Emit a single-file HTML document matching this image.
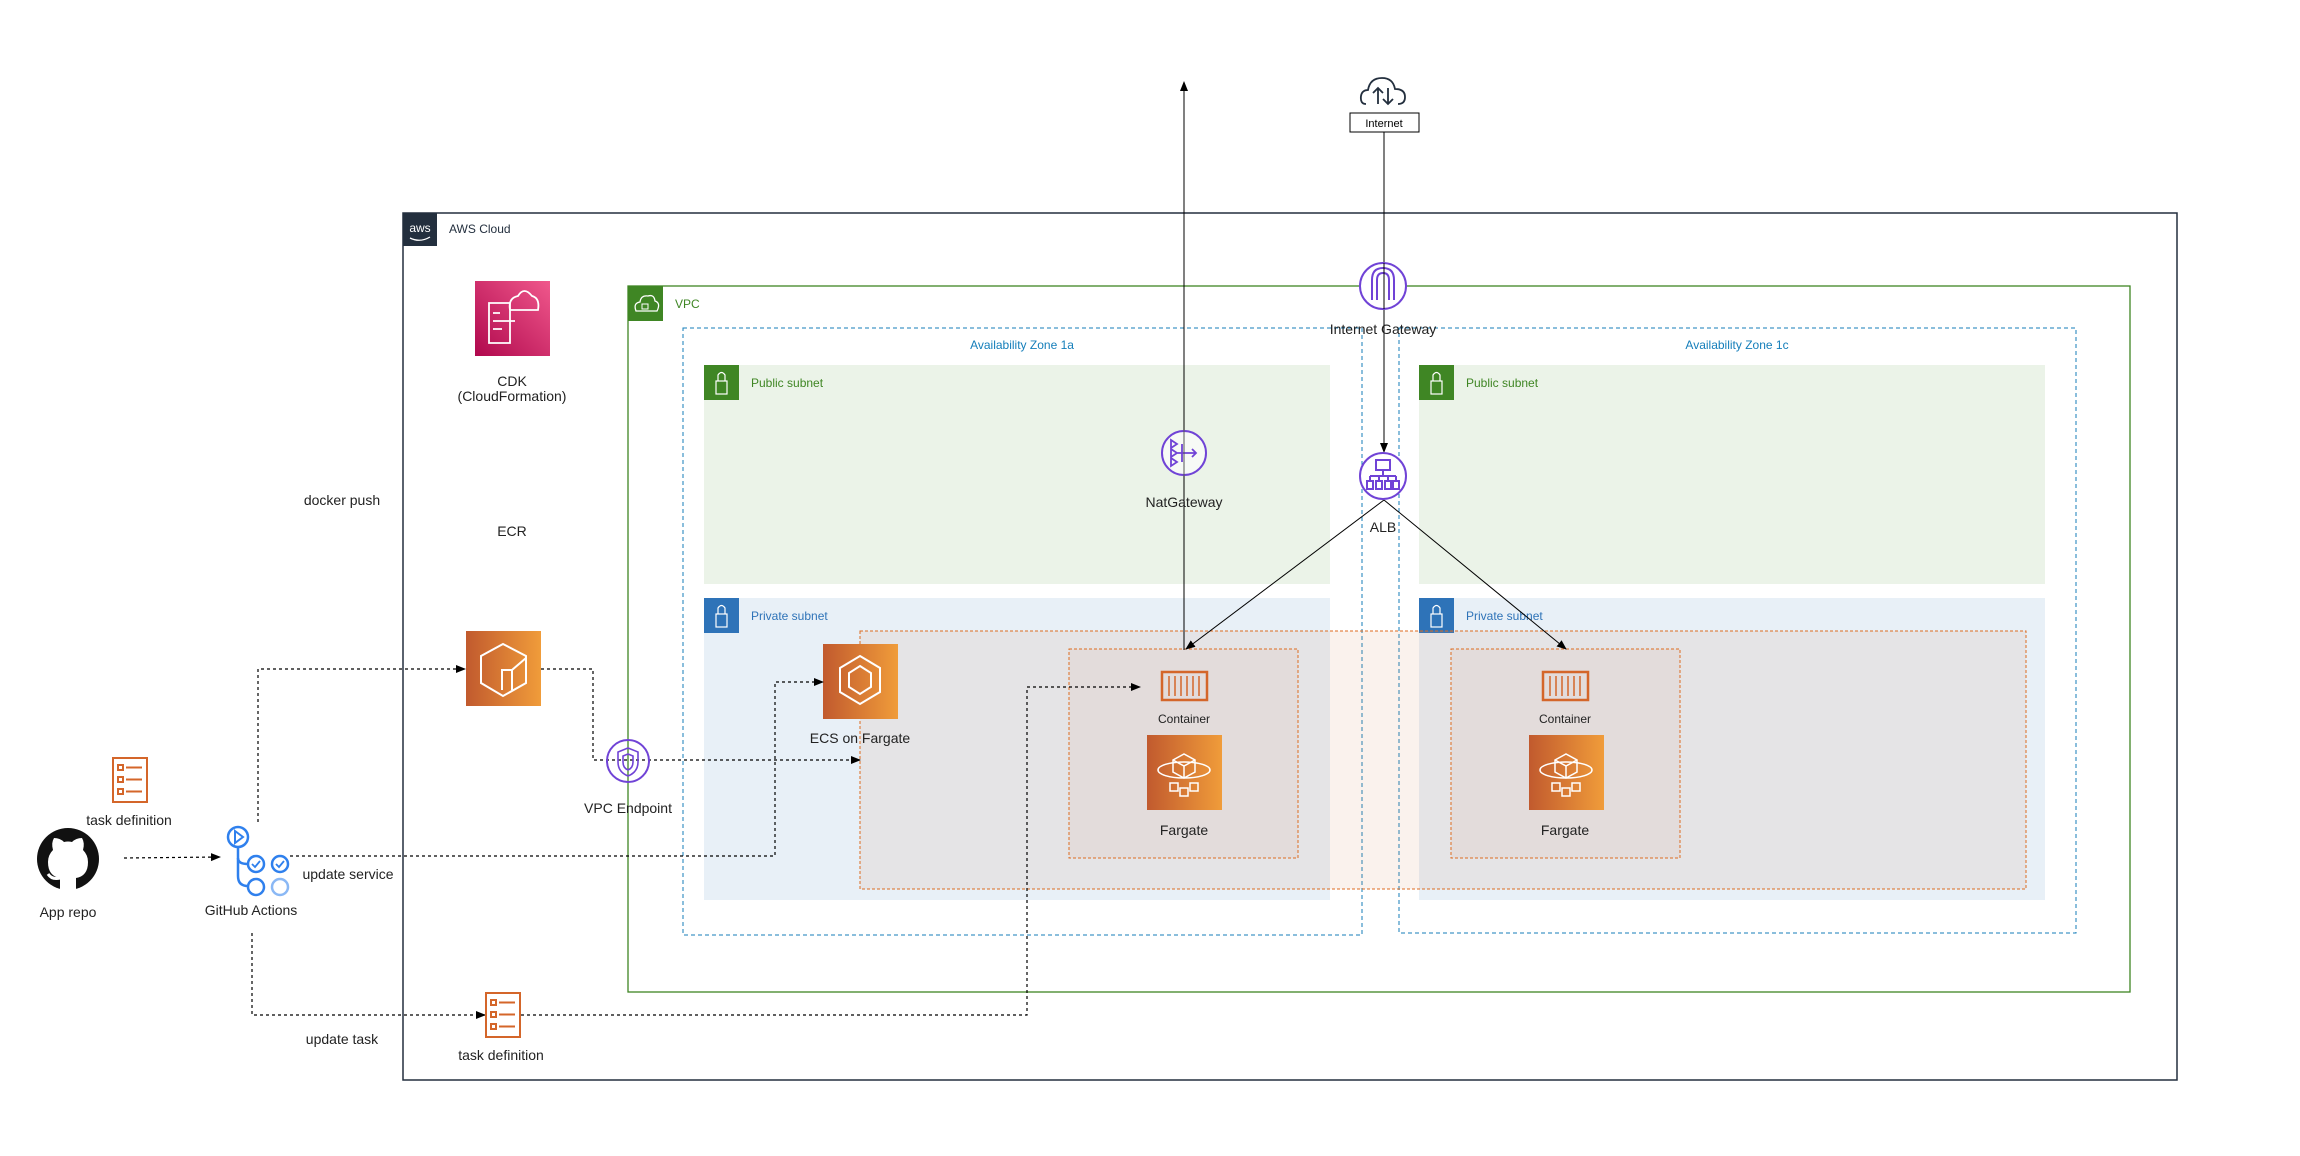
<!DOCTYPE html>
<html><head><meta charset="utf-8"><style>
html,body{margin:0;padding:0;background:#fff;}
svg{display:block;font-family:"Liberation Sans",Arial,sans-serif;}
</style></head><body>
<svg width="2300" height="1156" viewBox="0 0 2300 1156" xmlns="http://www.w3.org/2000/svg">
<defs>
<marker id="ar" markerWidth="10" markerHeight="10" refX="9" refY="5" orient="auto" markerUnits="userSpaceOnUse"><path d="M0,1 L10,5 L0,9 Z" fill="#000"/></marker>
<linearGradient id="og" x1="0" y1="0" x2="1" y2="0"><stop offset="0" stop-color="#c15a2e"/><stop offset="1" stop-color="#f09c3a"/></linearGradient>
<linearGradient id="pg" x1="0" y1="1" x2="1" y2="0"><stop offset="0" stop-color="#b0084d"/><stop offset="1" stop-color="#f0588c"/></linearGradient>
</defs>

<!-- AWS Cloud -->
<rect x="403" y="213" width="1774" height="867" fill="none" stroke="#232f3e" stroke-width="1.5"/>
<rect x="403" y="213" width="34" height="33" fill="#232f3e"/>
<text x="420" y="232" font-size="12" fill="#fff" text-anchor="middle">aws</text>
<path d="M410 238 Q420 243 430 237" stroke="#fff" fill="none" stroke-width="1.3"/>
<text x="449" y="233" font-size="12" fill="#232f3e">AWS Cloud</text>

<!-- VPC -->
<rect x="628" y="286" width="1502" height="706" fill="none" stroke="#3f8624" stroke-width="1.3"/>
<rect x="628" y="286" width="35" height="35" fill="#3f8624"/>
<path d="M636 311 Q633 303 640 302 Q641 295 648 296 Q654 294 655 301 Q661 303 657 311 Z" stroke="#fff" fill="none" stroke-width="1.3"/>
<rect x="642" y="304" width="6" height="5" fill="none" stroke="#fff"/>
<text x="675" y="308" font-size="12" fill="#3f8624">VPC</text>

<!-- AZs -->
<rect x="683" y="328" width="679" height="607" fill="none" stroke="#147eba" stroke-dasharray="4,3" stroke-width="1"/>
<rect x="1399" y="328" width="677" height="605" fill="none" stroke="#147eba" stroke-dasharray="4,3" stroke-width="1"/>
<text x="1022" y="349" font-size="12" fill="#147eba" text-anchor="middle">Availability Zone 1a</text>
<text x="1737" y="349" font-size="12" fill="#147eba" text-anchor="middle">Availability Zone 1c</text>

<!-- subnets -->
<g>
<rect x="704" y="365" width="626" height="219" fill="#ebf3e8"/>
<rect x="704" y="598" width="626" height="302" fill="#e8f0f7"/>
<rect x="1419" y="365" width="626" height="219" fill="#ebf3e8"/>
<rect x="1419" y="598" width="626" height="302" fill="#e8f0f7"/>
<rect x="704" y="365" width="35" height="35" fill="#3f8624"/>
<rect x="704" y="598" width="35" height="35" fill="#2e73b8"/>
<rect x="1419" y="365" width="35" height="35" fill="#3f8624"/>
<rect x="1419" y="598" width="35" height="35" fill="#2e73b8"/>
<g stroke="#fff" fill="none" stroke-width="1.2">
<rect x="716" y="381" width="11" height="13"/><path d="M718 381 V375 Q721.5 370 725 375 V381"/>
<rect x="716" y="614" width="11" height="13"/><path d="M718 614 V608 Q721.5 603 725 608 V614"/>
<rect x="1431" y="381" width="11" height="13"/><path d="M1433 381 V375 Q1436.5 370 1440 375 V381"/>
<rect x="1431" y="614" width="11" height="13"/><path d="M1433 614 V608 Q1436.5 603 1440 608 V614"/>
</g>
<text x="751" y="387" font-size="12" fill="#3f8624">Public subnet</text>
<text x="751" y="620" font-size="12" fill="#2e73b8">Private subnet</text>
<text x="1466" y="387" font-size="12" fill="#3f8624">Public subnet</text>
<text x="1466" y="620" font-size="12" fill="#2e73b8">Private subnet</text>
</g>

<!-- cluster -->
<rect x="860" y="631" width="1166" height="258" fill="rgba(215,150,110,0.12)" stroke="#dd6b20" stroke-dasharray="3,2" stroke-width="1"/>
<rect x="860" y="631" width="470" height="258" fill="rgba(0,0,0,0.0)"/>
<rect x="1069" y="649" width="229" height="209" fill="rgba(200,130,90,0.08)" stroke="#dd6b20" stroke-dasharray="3,2"/>
<rect x="1451" y="649" width="229" height="209" fill="rgba(200,130,90,0.08)" stroke="#dd6b20" stroke-dasharray="3,2"/>

<!-- containers -->
<g stroke="#d4662a" fill="none" stroke-width="2.5">
<rect x="1162" y="672" width="45" height="28"/>
<path d="M1169 676V696M1175 676V696M1181 676V696M1187 676V696M1193 676V696M1199 676V696" stroke-width="1.5"/>
<rect x="1543" y="672" width="45" height="28"/>
<path d="M1550 676V696M1556 676V696M1562 676V696M1568 676V696M1574 676V696M1580 676V696" stroke-width="1.5"/>
</g>
<text x="1184" y="723" font-size="12" fill="#222" text-anchor="middle">Container</text>
<text x="1565" y="723" font-size="12" fill="#222" text-anchor="middle">Container</text>
<!-- fargate -->
<g id="fg">
<rect x="1147" y="735" width="75" height="75" fill="url(#og)"/>
<g stroke="#fff" fill="none" stroke-width="1.5">
<path d="M1173 760 L1184 754 L1195 760 L1195 772 L1184 778 L1173 772 Z M1173 760 L1184 766 L1195 760 M1184 766 V778"/>
<ellipse cx="1184" cy="770" rx="26" ry="8"/>
<rect x="1170" y="783" width="8" height="8"/><rect x="1180" y="788" width="8" height="8"/><rect x="1190" y="783" width="8" height="8"/>
</g>
</g>
<use href="#fg" x="382" y="0"/>
<text x="1184" y="835" font-size="14" fill="#222" text-anchor="middle">Fargate</text>
<text x="1565" y="835" font-size="14" fill="#222" text-anchor="middle">Fargate</text>

<!-- ECS -->
<rect x="823" y="644" width="75" height="75" fill="url(#og)"/>
<g stroke="#fff" fill="none" stroke-width="2">
<path d="M860 656 L880 668 L880 692 L860 704 L840 692 L840 668 Z"/>
<path d="M860 666 L871 673 L871 687 L860 694 L849 687 L849 673 Z"/>
</g>
<text x="860" y="743" font-size="14" fill="#222" text-anchor="middle">ECS on Fargate</text>

<!-- ECR -->
<rect x="466" y="631" width="75" height="75" fill="url(#og)"/>
<g stroke="#fff" fill="none" stroke-width="2">
<path d="M503 644 L526 656 L526 683 L503 696 L481 683 L481 656 Z"/>
<path d="M526 658 L512 670 L512 690 M512 670 L502 670 L502 690"/>
</g>
<text x="512" y="536" font-size="14" fill="#222" text-anchor="middle">ECR</text>

<!-- CDK -->
<rect x="475" y="281" width="75" height="75" fill="url(#pg)"/>
<g stroke="#fff" fill="none" stroke-width="1.8">
<path d="M489 303 H510 V343 H489 Z"/>
<path d="M510 310 Q508 298 518 296 Q524 286 532 296 Q540 298 538 310 H510"/>
<path d="M493 313H500M493 321H515M493 329H502"/>
</g>
<text x="512" y="386" font-size="14" fill="#222" text-anchor="middle">CDK</text>
<text x="512" y="401" font-size="14" fill="#222" text-anchor="middle">(CloudFormation)</text>

<!-- Internet -->
<g stroke="#232f3e" fill="none" stroke-width="1.8">
<path d="M1366 104 Q1360 104 1361 96 Q1362 90 1368 90 Q1370 78 1382 78 Q1393 78 1395 89 Q1405 89 1405 97 Q1405 104 1398 104"/>
<path d="M1378 104 V88 M1373 93 L1378 88 L1383 93 M1388 88 V104 M1383 99 L1388 104 L1393 99"/>
</g>
<rect x="1350" y="113" width="69" height="19" fill="#fff" stroke="#000" stroke-width="1"/>
<text x="1384" y="127" font-size="11" text-anchor="middle">Internet</text>

<!-- connectors solid -->
<line x1="1384" y1="132" x2="1384" y2="452" stroke="#000" stroke-width="1" marker-end="url(#ar)"/>
<line x1="1184" y1="650" x2="1184" y2="82" stroke="#000" stroke-width="1" marker-end="url(#ar)"/>
<line x1="1384" y1="500" x2="1186" y2="649" stroke="#000" stroke-width="1" marker-end="url(#ar)"/>
<line x1="1384" y1="500" x2="1566" y2="649" stroke="#000" stroke-width="1" marker-end="url(#ar)"/>

<!-- IGW -->
<circle cx="1383" cy="286" r="23" fill="#fff" stroke="#7043d6" stroke-width="2"/>
<path d="M1372 300 V280 Q1372 268 1383 268 Q1394 268 1394 280 V300 M1377 300 V280 Q1377 273 1383 273 Q1389 273 1389 280 V300" stroke="#7043d6" fill="none" stroke-width="2"/>
<line x1="1384" y1="263" x2="1384" y2="309" stroke="#000" stroke-width="1"/>
<text x="1383" y="334" font-size="14" fill="#222" text-anchor="middle">Internet Gateway</text>
<!-- ALB -->
<circle cx="1383" cy="476" r="23" fill="#fff" stroke="#7043d6" stroke-width="2"/>
<g stroke="#7043d6" fill="none" stroke-width="2">
<rect x="1376" y="460" width="14" height="10"/><path d="M1383 470 V476 M1370 476 H1396 M1370 476 V481 M1379 476 V481 M1388 476 V481 M1396 476 V481"/>
<rect x="1367" y="481" width="6" height="8"/><rect x="1376" y="481" width="6" height="8"/><rect x="1385" y="481" width="6" height="8"/><rect x="1393" y="481" width="6" height="8"/>
</g>
<text x="1383" y="532" font-size="14" fill="#222" text-anchor="middle">ALB</text>
<!-- NAT -->
<circle cx="1184" cy="453" r="22" fill="#fff" fill-opacity="0.6" stroke="#7043d6" stroke-width="2"/>
<g stroke="#7043d6" fill="none" stroke-width="1.8">
<path d="M1171 440 L1177 444 L1171 448 Z M1171 449 L1177 453 L1171 457 Z M1171 458 L1177 462 L1171 466 Z M1177 453 H1196 M1192 449 L1196 453 L1192 457 M1182 444 V462"/>
</g>
<line x1="1184" y1="430" x2="1184" y2="476" stroke="#555" stroke-width="1"/>
<text x="1184" y="507" font-size="14" fill="#222" text-anchor="middle">NatGateway</text>

<!-- dashed connectors -->
<g stroke="#000" fill="none" stroke-width="1.2" stroke-dasharray="3,3">
<path d="M124 858 L220 857" marker-end="url(#ar)"/>
<path d="M258 822 V669 H465" marker-end="url(#ar)"/>
<path d="M541 669 H593 V760 H860" marker-end="url(#ar)"/>
<path d="M290 856 H775 V682 H823" marker-end="url(#ar)"/>
<path d="M252 933 V1015 H485" marker-end="url(#ar)"/>
<path d="M521 1015 H1027 V687 H1140" marker-end="url(#ar)"/>
</g>

<!-- VPC endpoint -->
<circle cx="628" cy="761" r="21" fill="none" stroke="#7043d6" stroke-width="2"/>
<path d="M628 748 L638 752 V762 Q638 772 628 776 Q618 772 618 762 V752 Z M628 754 L633 756 V762 Q633 768 628 770 Q623 768 623 762 V756 Z" stroke="#7043d6" fill="none" stroke-width="1.6"/>
<text x="628" y="813" font-size="14" fill="#222" text-anchor="middle">VPC Endpoint</text>

<!-- task defs -->
<g id="td" stroke="#d4662a" fill="none" stroke-width="2">
<rect x="113" y="758" width="34" height="44"/>
<rect x="118" y="765" width="5" height="5"/><rect x="118" y="777" width="5" height="5"/><rect x="118" y="789" width="5" height="5"/>
<path d="M126 767.5H142M126 779.5H142M126 791.5H142"/>
</g>
<use href="#td" x="373" y="235"/>
<text x="129" y="825" font-size="14" fill="#222" text-anchor="middle">task definition</text>
<text x="501" y="1060" font-size="14" fill="#222" text-anchor="middle">task definition</text>

<!-- Octocat -->
<g fill="#111">
<circle cx="68" cy="859" r="31"/>
</g>
<path d="M60 890 V878 Q48 876 48 862 Q48 855 53 850 Q51 843 54 838 Q60 838 64 842 Q68 841 72 842 Q76 838 82 838 Q85 843 83 850 Q88 855 88 862 Q88 876 76 878 V890 Z" fill="#fff"/>
<path d="M60 878 Q52 880 48 874" stroke="#fff" stroke-width="3" fill="none"/>
<text x="68" y="917" font-size="14" fill="#222" text-anchor="middle">App repo</text>

<!-- GitHub Actions -->
<g fill="none" stroke-width="2.5">
<circle cx="238" cy="837" r="10" stroke="#2f80ed"/>
<path d="M235 831 L243 837 L235 843 Z" stroke="#2f80ed" stroke-width="2"/>
<path d="M238 847 V876 Q238 886 248 886" stroke="#2f80ed"/>
<path d="M238 858 Q238 864 248 864" stroke="#2f80ed"/>
<circle cx="256" cy="864" r="8" stroke="#2f80ed"/>
<circle cx="280" cy="864" r="8" stroke="#2f80ed"/>
<circle cx="256" cy="887" r="8" stroke="#2f80ed"/>
<circle cx="280" cy="887" r="8" stroke="#8ab8f5"/>
<path d="M252 864 L255 867 L260 861 M276 864 L279 867 L284 861" stroke="#2f80ed" stroke-width="1.8"/>
</g>
<text x="251" y="915" font-size="14" fill="#222" text-anchor="middle">GitHub Actions</text>

<text x="348" y="879" font-size="14" fill="#222" text-anchor="middle">update service</text>
<text x="342" y="1044" font-size="14" fill="#222" text-anchor="middle">update task</text>
<text x="342" y="505" font-size="14" fill="#222" text-anchor="middle">docker push</text>
</svg>
</body></html>
